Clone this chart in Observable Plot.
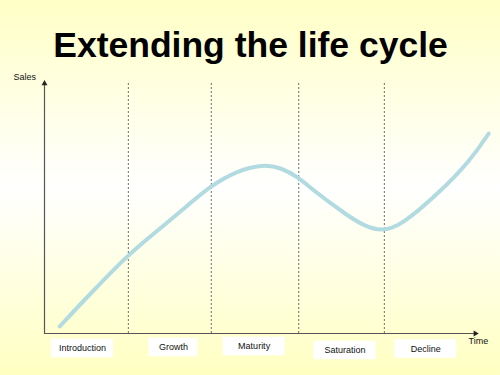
<!DOCTYPE html>
<html>
<head>
<meta charset="utf-8">
<script src="https://cdn.jsdelivr.net/npm/d3@7"></script>
<script src="https://cdn.jsdelivr.net/npm/@observablehq/plot@0.6"></script>
<style>
  html, body { margin: 0; padding: 0; }
  body {
    width: 500px; height: 375px; overflow: hidden;
    background: linear-gradient(to bottom, #ffffc6 0%, #ffffff 50%, #ffffc2 100%);
  }
  svg { display: block; background: transparent !important; }
</style>
</head>
<body>
<div id="chart"></div>
<script>
// ---- data ----
const title = "Extending the life cycle";
const yLabel = "Sales";
const xLabel = "Time";
const stages = ["Introduction", "Growth", "Maturity", "Saturation", "Decline"];
const stageBounds = [18.8, 37.4, 57.0, 76.2];          // stage dividers (time units)
const labelX = [8.5, 28.9, 47.0, 67.4, 85.5];          // stage label centres (time units)
const labelY = [-6.0, -5.6, -5.2, -6.8, -6.2];         // stage label centres (sales units)
const timeX  = [3.4, 10.3, 18.8, 24.4, 32.1, 37.2, 43.3, 48.9, 52.9, 57.0, 60.3, 67.9, 71.5, 75.6, 79.8, 88.1, 95.5, 99.6];
const salesY = [2.8, 16.0, 31.6, 39.8, 51.2, 59.0, 65.2, 67.6, 66.5, 62.4, 57.2, 47.2, 43.2, 40.8, 43.0, 55.6, 69.2, 80.0];
const xAxisEnd = 96.6;
const yAxisEnd = 100;

// ---- layout ----
const W = 500, H = 375;
const mL = 44, mR = 10, mT = 83, mB = 42;
const kx = (W - mL - mR) / 100;   // px per time unit
const ky = (H - mT - mB) / 100;   // px per sales unit
const boxW = [62, 49, 62, 62, 62];  // px
const boxH = 18.5;                  // px

const curve = timeX.map((t, i) => ({t, s: salesY[i]}));
const labels = stages.map((name, i) => ({
  name, x: labelX[i], y: labelY[i],
  x1: labelX[i] - boxW[i] / 2 / kx, x2: labelX[i] + boxW[i] / 2 / kx,
  y1: labelY[i] - boxH / 2 / ky, y2: labelY[i] + boxH / 2 / ky
}));

const chart = Plot.plot({
  width: W, height: H,
  marginLeft: mL, marginRight: mR, marginTop: mT, marginBottom: mB,
  x: {domain: [0, 100], axis: null},
  y: {domain: [0, 100], axis: null},
  style: {background: "transparent", fontFamily: "Liberation Sans, Arial, sans-serif"},
  marks: [
    // dashed stage dividers
    Plot.ruleX(stageBounds, {y1: 0, y2: yAxisEnd, stroke: "#6f6f6f", strokeWidth: 1, strokeDasharray: "2,2"}),
    // axes
    Plot.ruleY([0], {x1: 0, x2: xAxisEnd, stroke: "#555", strokeWidth: 1.2}),
    Plot.ruleX([0], {y1: 0, y2: yAxisEnd, stroke: "#555", strokeWidth: 1.2}),
    Plot.dot([{x: xAxisEnd, y: 0}], {x: "x", y: "y", symbol: "triangle", rotate: 90, r: 2.2, fill: "#222", stroke: "none", clip: false}),
    Plot.dot([{x: 0, y: yAxisEnd}], {x: "x", y: "y", symbol: "triangle", rotate: 0, r: 2.2, fill: "#222", stroke: "none", clip: false}),
    // product life cycle curve
    Plot.line(curve, {x: "t", y: "s", curve: "basis", stroke: "#b1dbe0", strokeWidth: 4}),
    // stage label boxes
    Plot.rect(labels, {x1: "x1", x2: "x2", y1: "y1", y2: "y2", fill: "white", clip: false}),
    Plot.text(labels, {x: "x", y: "y", text: "name", fontSize: 9, fill: "#111", clip: false}),
    // axis labels
    Plot.text([yLabel], {frameAnchor: "top-left", dx: -31, dy: -6, textAnchor: "start", lineAnchor: "middle", fontSize: 9, fill: "#111"}),
    Plot.text([xLabel], {frameAnchor: "bottom-right", dx: -22, dy: 8, textAnchor: "start", lineAnchor: "middle", fontSize: 9, fill: "#111"}),
    // title
    Plot.text([title], {frameAnchor: "top", dx: -(mL - mR) / 2, dy: -38, lineAnchor: "middle", fontSize: 35.5, fontWeight: "bold", fill: "#000"})
  ]
});
document.getElementById("chart").appendChild(chart);
</script>
</body>
</html>
